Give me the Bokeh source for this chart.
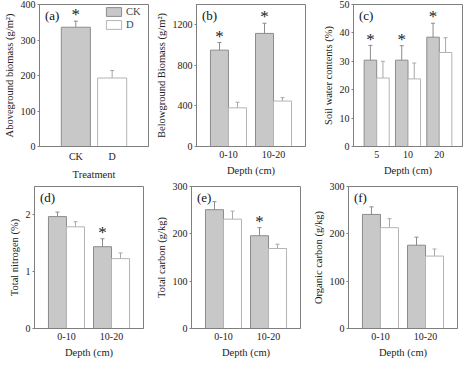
from bokeh.plotting import figure
from bokeh.layouts import row, column
from bokeh.models import (ColumnDataSource, Whisker, TeeHead, Label, Legend,
                          LegendItem, FixedTicker, Range1d)
from bokeh.embed import file_html
from bokeh.resources import INLINE
from bokeh.core.properties import value

# ---------------- data ----------------
treat = ["CK", "D"]
depth2 = ["0-10", "10-20"]
depth3 = ["5", "10", "20"]

a_vals = [336, 193]
a_err = [17, 21]
a_sig = [True, False]

b_ck = [950, 1115]
b_ck_err = [75, 100]
b_d = [381, 448]
b_d_err = [55, 33]
b_sig = [True, True]

c_ck = [30.4, 30.4, 38.5]
c_ck_err = [5.2, 5.1, 4.9]
c_d = [24.1, 23.8, 33.1]
c_d_err = [5.9, 5.6, 5.2]
c_sig = [True, True, True]

d_ck = [1.97, 1.44]
d_ck_err = [0.08, 0.14]
d_d = [1.79, 1.23]
d_d_err = [0.09, 0.10]
d_sig = [False, True]

e_ck = [251, 196]
e_ck_err = [17, 17]
e_d = [231, 169]
e_d_err = [17, 9]
e_sig = [False, True]

f_ck = [241, 176]
f_ck_err = [16, 17]
f_d = [213, 153]
f_d_err = [19, 15]
f_sig = [False, False]

a_ticks = [0, 100, 200, 300, 400]
b_ticks = [0, 400, 800, 1200]
c_ticks = [0, 10, 20, 30, 40, 50]
d_ticks = [0, 1, 2]
e_ticks = [0, 100, 200, 300]
f_ticks = [0, 100, 200, 300]

# ---------------- style ----------------
FONT = "Liberation Serif"
FRAME = "#7f7f7f"
CK_FILL = "#c8c8c8"
CK_LINE = "#8c8c8c"
D_FILL = "#ffffff"
D_LINE = "#b4b4b4"
ERR_CK = "#8c8c8c"
ERR_D = "#a8a8a8"
FH = 142


def base_fig(ylab, xlab, yend, yticks, xlabels, xstart, xend, fw, bl, br, tag):
    p = figure(frame_width=fw, frame_height=FH,
               x_range=Range1d(xstart, xend), y_range=Range1d(0, yend),
               output_backend="svg", toolbar_location=None,
               min_border_left=bl, min_border_right=br,
               min_border_top=4, min_border_bottom=30)
    p.background_fill_color = "white"
    p.border_fill_color = "white"
    p.outline_line_color = FRAME
    p.outline_line_width = 1
    p.grid.visible = False
    for ax in (p.xaxis[0], p.yaxis[0]):
        ax.axis_line_color = FRAME
        ax.minor_tick_line_color = None
        ax.major_label_text_font = FONT
        ax.major_label_text_font_size = "10px"
        ax.major_label_text_color = "#222222"
        ax.axis_label_text_font = FONT
        ax.axis_label_text_font_style = "normal"
        ax.axis_label_text_font_size = "10.5px"
        ax.axis_label_text_color = "#222222"
    p.yaxis[0].ticker = FixedTicker(ticks=yticks)
    p.yaxis[0].major_tick_line_color = FRAME
    p.yaxis[0].major_tick_in = 0
    p.yaxis[0].major_tick_out = 2
    p.yaxis[0].major_label_standoff = 2
    p.yaxis[0].axis_label_standoff = 3
    p.yaxis[0].axis_label = ylab
    xt = list(range(1, len(xlabels) + 1))
    p.xaxis[0].ticker = FixedTicker(ticks=xt)
    p.xaxis[0].major_label_overrides = {t: s for t, s in zip(xt, xlabels)}
    p.xaxis[0].major_tick_line_color = None
    p.xaxis[0].major_tick_out = 0
    p.xaxis[0].major_tick_in = 0
    p.xaxis[0].major_label_standoff = 4
    p.xaxis[0].axis_label_standoff = 4
    p.xaxis[0].axis_label = xlab
    lx = xstart + 0.05 * (xend - xstart)
    p.add_layout(Label(x=lx, y=yend * 0.925, text=tag, text_font=FONT,
                       text_font_size="13px", text_baseline="middle",
                       text_color="#111111"))
    return p


def add_bars(p, xs, vals, errs, width, fill, line, ecol):
    src = ColumnDataSource(dict(x=xs, top=vals,
                                up=[v + e for v, e in zip(vals, errs)],
                                lo=[v - e for v, e in zip(vals, errs)]))
    r = p.vbar(x="x", top="top", width=width, bottom=0, source=src,
               fill_color=fill, line_color=line, line_width=1)
    w = Whisker(base="x", upper="up", lower="lo", source=src,
                line_color=ecol, line_width=1,
                upper_head=TeeHead(size=4, line_color=ecol, line_width=1),
                lower_head=TeeHead(size=4, line_color=ecol, line_width=1))
    p.add_layout(w)
    return r


def add_stars(p, xs, vals, errs, sig, yend):
    sx = [x for x, s in zip(xs, sig) if s]
    sy = [v + e + 0.045 * yend for v, e, s in zip(vals, errs, sig) if s]
    if sx:
        p.text(x=sx, y=sy, text=["*"] * len(sx), text_font=value(FONT),
               text_font_size="17px", text_align="center",
               text_baseline="middle", text_color="#222222")


def two_series(ylab, yend, yticks, cats, ck, ck_err, d, d_err, sig,
               fw, bl, br, tag, pad=0.71):
    n = len(cats)
    p = base_fig(ylab, "Depth (cm)", yend, yticks, cats,
                 1 - pad, n + pad, fw, bl, br, tag)
    xs = list(range(1, n + 1))
    xck = [x - 0.2 for x in xs]
    xd = [x + 0.2 for x in xs]
    add_bars(p, xck, ck, ck_err, 0.4, CK_FILL, CK_LINE, ERR_CK)
    add_bars(p, xd, d, d_err, 0.4, D_FILL, D_LINE, ERR_D)
    add_stars(p, xck, ck, ck_err, sig, yend)
    return p


# (a)
pa = base_fig("Aboveground biomass (g/m²)", "Treatment", 400, a_ticks, treat,
              0, 3, 109, 34, 4, "(a)")
xa = [1, 2]
ra = add_bars(pa, [xa[0]], [a_vals[0]], [a_err[0]], 0.8, CK_FILL, CK_LINE, ERR_CK)
rb = add_bars(pa, [xa[1]], [a_vals[1]], [a_err[1]], 0.8, D_FILL, D_LINE, ERR_D)
add_stars(pa, xa, a_vals, a_err, a_sig, 400)
leg = Legend(items=[LegendItem(label=treat[0], renderers=[ra]),
                    LegendItem(label=treat[1], renderers=[rb])],
             location="top_right", glyph_width=19, glyph_height=11,
             label_text_font=FONT, label_text_font_size="10.5px",
             label_standoff=3, spacing=2, padding=1, margin=2,
             border_line_color=None, background_fill_alpha=0,
             label_height=11)
pa.add_layout(leg)

pb = two_series("Belowground Biomass (g/m²)", 1400, b_ticks, depth2,
                b_ck, b_ck_err, b_d, b_d_err, b_sig, 109, 44, 4, "(b)")
pc = two_series("Soil water contents (%)", 50, c_ticks, depth3,
                c_ck, c_ck_err, c_d, c_d_err, c_sig, 109, 44, 1, "(c)", pad=0.74)
pd = two_series("Total nitrogen (%)", 2.5, d_ticks, depth2,
                d_ck, d_ck_err, d_d, d_d_err, d_sig, 109, 34, 4, "(d)")
pe = two_series("Total carbon (g/kg)", 300, e_ticks, depth2,
                e_ck, e_ck_err, e_d, e_d_err, e_sig, 109, 44, 4, "(e)")
pf = two_series("Organic carbon (g/kg)", 300, f_ticks, depth2,
                f_ck, f_ck_err, f_d, f_d_err, f_sig, 109, 44, 1, "(f)")

layout = column(row(pa, pb, pc), row(pd, pe, pf))
open("out.html", "w").write(file_html(layout, INLINE))
